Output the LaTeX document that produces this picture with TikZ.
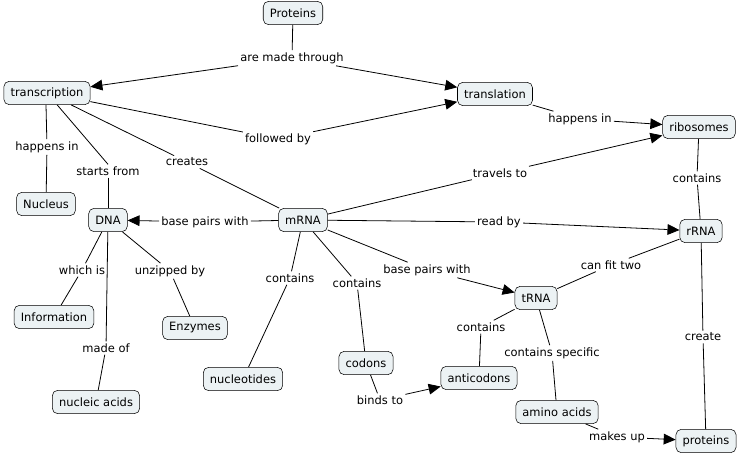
\documentclass[tikz,border=0pt]{standalone}
\usepackage{fontspec}
\setmainfont{DejaVu Sans}
\usetikzlibrary{arrows.meta}
\begin{document}
\begin{tikzpicture}[x=0.75pt,y=-0.75pt,
  c/.style={draw=black,fill={rgb,255:red,236;green,242;blue,244},rounded corners=4pt,font=\fontsize{8.6}{10}\selectfont,inner xsep=5pt,inner ysep=0pt,minimum height=17.5pt},
  l/.style={font=\fontsize{8.6}{10}\selectfont,inner sep=1.5pt},
  e/.style={draw=black,line width=0.6pt},
  a/.style={e,-{Triangle[length=9pt,width=8pt]}}]
\useasboundingbox (0,0) rectangle (740,460);
\node[c] (proteins) at (293,13) {Proteins};
\node[c] (transcription) at (47,93) {transcription};
\node[c] (translation) at (495,94) {translation};
\node[c] (ribosomes) at (699,127) {ribosomes};
\node[c] (nucleus) at (46,204) {Nucleus};
\node[c] (dna) at (108,220) {DNA};
\node[c] (mrna) at (303,220) {mRNA};
\node[c] (rrna) at (701,231) {rRNA};
\node[c] (trna) at (536,298) {tRNA};
\node[c] (information) at (54,317) {Information};
\node[c] (enzymes) at (195,328) {Enzymes};
\node[c] (nucleotides) at (243,379) {nucleotides};
\node[c] (codons) at (366,363) {codons};
\node[c] (anticodons) at (479,378) {anticodons};
\node[c] (nucleic) at (96,402) {nucleic acids};
\node[c] (amino) at (557,412) {amino acids};
\node[c] (proteins2) at (706,441) {proteins};

\node[l] (l1) at (292,58) {are made through};
\node[l] (l2) at (278,139) {followed by};
\node[l] (l3) at (580,119) {happens in};
\node[l] (l4) at (47,147) {happens in};
\node[l] (l5) at (108,171) {starts from};
\node[l] (l6) at (187,162) {creates};
\node[l] (l7) at (500,173) {travels to};
\node[l] (l8) at (697,178) {contains};
\node[l] (l9) at (205,222) {base pairs with};
\node[l] (l10) at (499,222) {read by};
\node[l] (l11) at (82,270) {which is};
\node[l] (l12) at (170,271) {unzipped by};
\node[l] (l13) at (290,278) {contains};
\node[l] (l14) at (357,283) {contains};
\node[l] (l15) at (427,270) {base pairs with};
\node[l] (l16) at (611,265) {can fit two};
\node[l] (l17) at (481,327) {contains};
\node[l] (l18) at (552,353) {contains specific};
\node[l] (l19) at (703,337) {create};
\node[l] (l20) at (106,348) {made of};
\node[l] (l21) at (380,400) {binds to};
\node[l] (l22) at (617,437) {makes up};

\draw[e] (proteins) -- (l1);
\draw[a] (l1) -- (transcription);
\draw[a] (l1) -- (translation);
\draw[e] (transcription) -- (l2);
\draw[a] (l2) -- (translation);
\draw[e] (translation) -- (l3);
\draw[a] (l3) -- (ribosomes);
\draw[e] (transcription.south-|nucleus) -- (l4);
\draw[e] (l4) -- (nucleus);
\draw[e] (transcription) -- (l5.north);
\draw[e] (l5.south-|dna) -- (dna);
\draw[e] (transcription) -- (l6);
\draw[e] (l6) -- (mrna);
\draw[e] (mrna) -- (l7);
\draw[a] (l7) -- (ribosomes);
\draw[e] (ribosomes) -- (l8);
\draw[e] (l8) -- (rrna);
\draw[e] (mrna) -- (l9);
\draw[a] (l9) -- (dna);
\draw[e] (mrna) -- (l10);
\draw[a] (l10) -- (rrna);
\draw[e] (dna) -- (l11);
\draw[e] (l11) -- (information);
\draw[e] (dna) -- (l12);
\draw[e] (l12) -- (enzymes);
\draw[e] (mrna) -- (l13);
\draw[e] (l13) -- (nucleotides);
\draw[e] (mrna) -- (l14);
\draw[e] (l14) -- (codons);
\draw[e] (mrna) -- (l15);
\draw[a] (l15) -- (trna);
\draw[e] (rrna) -- (l16);
\draw[e] (l16) -- (trna);
\draw[e] (trna) -- (l17);
\draw[e] (l17) -- (anticodons);
\draw[e] (trna) -- (l18);
\draw[e] (l18) -- (amino);
\draw[e] (rrna) -- (l19);
\draw[e] (l19) -- (proteins2);
\draw[e] (dna) -- (l20);
\draw[e] (l20) -- (nucleic);
\draw[e] (codons) -- (l21);
\draw[a] (l21) -- (anticodons);
\draw[e] (amino) -- (l22);
\draw[a] (l22) -- (proteins2);
\end{tikzpicture}
\end{document}
